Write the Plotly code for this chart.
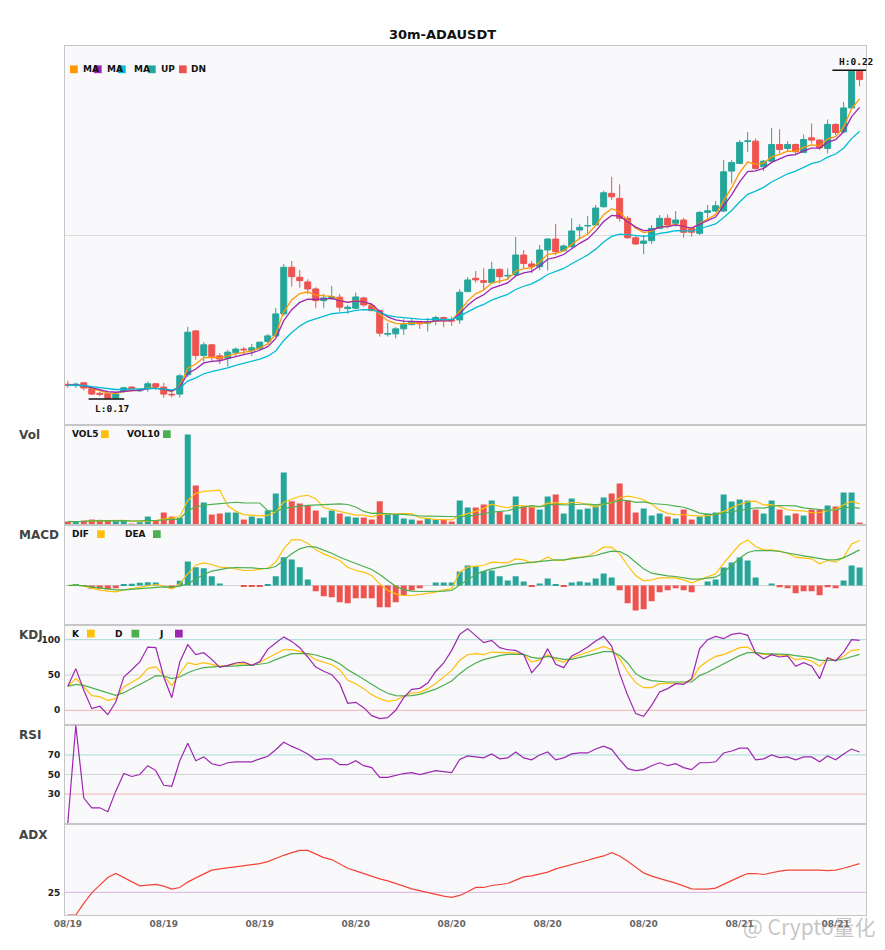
import pandas as pd
import plotly.graph_objects as go
from plotly.subplots import make_subplots

# 30m ADAUSDT, 100 candles
open_ = [0.17200, 0.17182, 0.17223, 0.17131, 0.17062, 0.17054, 0.16988, 0.17089, 0.17157, 0.17100,
         0.17131, 0.17208, 0.17157, 0.17046, 0.17049, 0.17346, 0.18023, 0.17643, 0.17808, 0.17638,
         0.17603, 0.17685, 0.17742, 0.17720, 0.17746, 0.17858, 0.17946, 0.18285, 0.19003, 0.18849,
         0.18777, 0.18669, 0.18489, 0.18520, 0.18542, 0.18366, 0.18372, 0.18531, 0.18412, 0.18335,
         0.17972, 0.17977, 0.18054, 0.18120, 0.18157, 0.18142, 0.18182, 0.18228, 0.18192, 0.18192,
         0.18628, 0.18834, 0.18797, 0.18766, 0.18972, 0.18869, 0.18885, 0.19192, 0.19054, 0.19012,
         0.19269, 0.19438, 0.19258, 0.19320, 0.19577, 0.19640, 0.19654, 0.19935, 0.20142, 0.20065,
         0.19757, 0.19458, 0.19372, 0.19412, 0.19603, 0.19757, 0.19680, 0.19731, 0.19603, 0.19526,
         0.19849, 0.19869, 0.19869, 0.20485, 0.20603, 0.20942, 0.20946, 0.20551, 0.20638, 0.20895,
         0.20834, 0.20895, 0.20772, 0.20997, 0.20962, 0.20834, 0.21203, 0.21089, 0.21458, 0.22023]
high = [0.17254, 0.17228, 0.17238, 0.17146, 0.17085, 0.17069, 0.17069, 0.17162, 0.17169, 0.17142,
        0.17243, 0.17218, 0.17223, 0.17115, 0.17362, 0.18085, 0.18038, 0.17849, 0.17823, 0.17680,
        0.17731, 0.17766, 0.17777, 0.17823, 0.17858, 0.17977, 0.18377, 0.19054, 0.19100, 0.18962,
        0.18818, 0.18695, 0.18592, 0.18715, 0.18592, 0.18423, 0.18612, 0.18551, 0.18423, 0.18351,
        0.18146, 0.18080, 0.18203, 0.18208, 0.18169, 0.18223, 0.18254, 0.18243, 0.18243, 0.18665,
        0.18849, 0.18946, 0.18988, 0.19089, 0.18985, 0.18988, 0.19469, 0.19269, 0.19100, 0.19346,
        0.19454, 0.19669, 0.19357, 0.19757, 0.19665, 0.19792, 0.19962, 0.20182, 0.20397, 0.20280,
        0.19792, 0.19500, 0.19500, 0.19654, 0.19808, 0.19818, 0.19869, 0.19762, 0.19623, 0.19869,
        0.19962, 0.20023, 0.20654, 0.20654, 0.20962, 0.21089, 0.20988, 0.20654, 0.21151, 0.21131,
        0.20946, 0.20908, 0.21049, 0.21218, 0.20977, 0.21280, 0.21223, 0.21551, 0.22038, 0.22031]
low = [0.17146, 0.17146, 0.17105, 0.17038, 0.17015, 0.16975, 0.16985, 0.17069, 0.17123, 0.17080,
       0.17085, 0.17115, 0.16992, 0.16997, 0.16997, 0.17315, 0.17577, 0.17551, 0.17562, 0.17511,
       0.17474, 0.17628, 0.17654, 0.17638, 0.17731, 0.17838, 0.17931, 0.18254, 0.18705, 0.18689,
       0.18592, 0.18372, 0.18372, 0.18500, 0.18320, 0.18285, 0.18362, 0.18397, 0.18331, 0.17935,
       0.17935, 0.17908, 0.17962, 0.18108, 0.18054, 0.18012, 0.18115, 0.18080, 0.18100, 0.18131,
       0.18623, 0.18766, 0.18654, 0.18762, 0.18757, 0.18808, 0.18869, 0.18988, 0.18911, 0.18962,
       0.18954, 0.19192, 0.19254, 0.19300, 0.19449, 0.19515, 0.19638, 0.19923, 0.20038, 0.19705,
       0.19438, 0.19346, 0.19203, 0.19362, 0.19592, 0.19603, 0.19628, 0.19458, 0.19474, 0.19500,
       0.19757, 0.19854, 0.19854, 0.20295, 0.20592, 0.20782, 0.20500, 0.20485, 0.20623, 0.20757,
       0.20782, 0.20731, 0.20762, 0.20911, 0.20808, 0.20757, 0.21038, 0.21069, 0.21438, 0.21792]
close = [0.17185, 0.17203, 0.17142, 0.17049, 0.17046, 0.16988, 0.17049, 0.17146, 0.17131, 0.17120,
         0.17208, 0.17162, 0.17049, 0.17038, 0.17331, 0.18003, 0.17643, 0.17808, 0.17628, 0.17588,
         0.17695, 0.17742, 0.17731, 0.17762, 0.17849, 0.17946, 0.18285, 0.19003, 0.18858, 0.18797,
         0.18669, 0.18489, 0.18531, 0.18551, 0.18388, 0.18388, 0.18546, 0.18423, 0.18335, 0.17988,
         0.17982, 0.18054, 0.18120, 0.18166, 0.18131, 0.18157, 0.18228, 0.18192, 0.18177, 0.18618,
         0.18808, 0.18808, 0.18772, 0.18972, 0.18858, 0.18877, 0.19192, 0.19062, 0.19012, 0.19269,
         0.19438, 0.19243, 0.19331, 0.19562, 0.19618, 0.19646, 0.19915, 0.20151, 0.20089, 0.19757,
         0.19458, 0.19362, 0.19408, 0.19603, 0.19757, 0.19654, 0.19731, 0.19542, 0.19542, 0.19849,
         0.19874, 0.19951, 0.20474, 0.20618, 0.20926, 0.20949, 0.20526, 0.20638, 0.20895, 0.20818,
         0.20895, 0.20782, 0.20972, 0.20962, 0.20843, 0.21203, 0.21080, 0.21458, 0.22023, 0.21895]
# volume in millions
volume = [1.0, 0.9, 1.3, 1.6, 1.5, 1.3, 1.1, 1.3, 0.4, 0.8,
          2.5, 1.3, 3.7, 2.5, 2.1, 27.1, 11.8, 6.7, 3.1, 3.4,
          3.7, 3.7, 1.6, 2.5, 2.0, 4.3, 9.4, 15.7, 7.1, 6.4,
          5.7, 4.3, 2.2, 4.3, 3.4, 2.5, 2.2, 2.2, 1.6, 7.1,
          3.1, 3.1, 1.9, 1.6, 1.3, 1.9, 1.6, 1.6, 1.0, 7.3,
          5.2, 5.2, 6.1, 7.3, 4.0, 3.1, 8.5, 5.5, 5.5, 4.6,
          8.5, 9.1, 3.4, 7.9, 4.6, 4.9, 5.8, 8.2, 9.4, 12.4,
          7.3, 3.7, 4.9, 2.8, 3.4, 2.5, 1.9, 4.6, 1.6, 2.5,
          3.4, 3.7, 9.1, 7.0, 7.6, 7.3, 4.6, 3.4, 7.3, 4.6,
          2.8, 3.4, 2.8, 4.6, 4.6, 5.8, 5.5, 9.7, 9.7, 0.7]

# MACD values in units of 1e-5
dif_e5 = [0, 3, -6, -24, -42, -51, -57, -39, -27, -12,
          3, 9, -6, -30, 15, 105, 183, 204, 189, 165,
          162, 147, 135, 135, 144, 156, 210, 330, 411, 414,
          381, 321, 285, 255, 225, 165, 135, 120, 90, 15,
          -45, -75, -90, -90, -81, -75, -60, -39, -30, 120,
          165, 174, 180, 210, 204, 204, 240, 231, 204, 219,
          255, 225, 225, 249, 255, 264, 300, 345, 345, 285,
          180, 90, 42, 51, 69, 69, 69, 51, 24, 51,
          81, 105, 201, 285, 369, 411, 351, 321, 321, 309,
          291, 255, 249, 240, 195, 225, 210, 255, 375, 405]
dea_e5 = [0, 3, -3, -12, -21, -30, -39, -39, -33, -27,
          -21, -15, -12, -15, -6, 15, 57, 99, 129, 144,
          156, 162, 162, 159, 153, 153, 171, 225, 285, 330,
          351, 345, 321, 291, 255, 225, 195, 171, 144, 99,
          45, -6, -39, -51, -54, -54, -51, -51, -45, 0,
          51, 99, 129, 150, 165, 174, 195, 201, 210, 213,
          225, 231, 231, 240, 246, 255, 270, 291, 309, 306,
          270, 210, 150, 111, 96, 87, 81, 69, 57, 57,
          69, 75, 120, 186, 246, 297, 315, 315, 315, 306,
          291, 279, 267, 255, 240, 231, 231, 249, 285, 321]
hist_e5 = [0, 9, -3, -30, -30, -36, -24, 6, 15, 24,
           30, 27, 0, -24, 42, 216, 165, 156, 84, 18,
           0, 0, -9, -12, -6, 9, 84, 255, 234, 165,
           54, -51, -96, -105, -150, -159, -114, -114, -114, -195,
           -195, -150, -90, -45, -24, 0, 27, 27, 27, 126,
           180, 171, 129, 135, 84, 45, 84, 36, -6, 18,
           63, 9, -6, 27, 36, 27, 63, 108, 72, -42,
           -159, -225, -213, -141, -60, -42, -24, -42, -60, 0,
           36, 54, 162, 207, 252, 225, 72, 0, 18, -15,
           -24, -69, -51, -51, -87, -15, -24, 45, 180, 162]

k_vals = [34, 44.8, 33, 20.8, 19.3, 14.2, 16.5, 33, 39.6, 46.2,
          59, 61.8, 49, 34.9, 51.9, 67.5, 64.6, 67.5, 65.1, 62.3,
          63.7, 65.6, 66, 63.7, 68, 74.5, 80.2, 85.8, 85.8, 83.5,
          79.2, 71.7, 68, 64.6, 57.5, 42.5, 37.7, 30.7, 22.2, 16.5,
          12.7, 14.2, 19.8, 24.5, 25.5, 30.7, 38, 47.2, 56.6, 70.8,
          78.8, 80.2, 78.8, 82.5, 82.1, 81.1, 81.1, 78.8, 68.4, 71.7,
          78.8, 71.7, 68, 74.5, 78.8, 82.5, 87.3, 90.6, 85.8, 73.1,
          54.2, 39.2, 32.1, 32.1, 37.7, 37.7, 38.7, 38.7, 43.4, 61.3,
          69.8, 76.4, 78.8, 84, 88.7, 89.6, 81.1, 79.2, 78.8, 77.8,
          77.8, 71.7, 73.1, 69.8, 62.3, 74.1, 70.8, 76.4, 84.9, 85.8]
d_vals = [34, 36.8, 35.4, 32, 28.3, 24.5, 21.2, 25, 30.7, 36.3,
          42.5, 49, 48.6, 44.8, 47.2, 53.3, 57.5, 60.4, 61.8, 62.3,
          62.3, 63.2, 63.7, 63.7, 65.1, 67, 71.7, 76.4, 80.2, 80.2,
          80.2, 78.3, 75.5, 71.7, 66, 57.5, 50.9, 43.9, 36.8, 29.7,
          24.1, 20.8, 20.3, 20.8, 22.6, 25.9, 30, 35.4, 41.5, 51.9,
          60.4, 67, 71.7, 74.5, 77.4, 79.2, 79.2, 79.2, 75, 73.6,
          76.4, 74.5, 72.2, 72.2, 74.5, 77.4, 80.2, 83, 83, 77.8,
          67, 51.9, 45.3, 42, 40.6, 40.1, 40.1, 40.1, 40.1, 49.1,
          53.8, 59.9, 66, 71.7, 77.4, 81.6, 81.6, 80.2, 80.2, 79.2,
          79.2, 77.4, 76.4, 74.5, 70.8, 70.8, 70.8, 72.6, 76.4, 79.2]
j_vals = [34, 59, 28.3, 2.4, 5.7, -6.1, 11.8, 47.2, 57.5, 68.4,
          89.6, 88.7, 47.2, 17.9, 68.4, 92.9, 78.8, 81.6, 72.2, 60.8,
          63.7, 67, 68.4, 63.7, 68.9, 86.3, 95.3, 104, 97.6, 88.7,
          75.5, 61.3, 55.2, 50.5, 37.7, 9.9, 11.3, 3.8, -7.5, -11.8,
          -10.4, 0, 17.9, 29.7, 31.1, 38.7, 55, 67, 84.9, 107.5,
          115.6, 106.1, 95.8, 99.1, 88.7, 85.8, 84.9, 78.8, 53.3, 66,
          87.3, 65.1, 60.4, 77, 82.5, 89.6, 98.1, 104.7, 91, 51.9,
          21.2, -4.7, -8.5, 7.1, 25.9, 30.7, 37.7, 36.8, 44.8, 87.3,
          100, 104.7, 101.4, 107.5, 109.4, 106.1, 81.1, 73.1, 78.8, 75.5,
          76.9, 62.3, 67.5, 62.7, 44.8, 74.5, 69.8, 82.5, 100, 99.1]
rsi_vals = [0, 100, 26, 16, 16, 12, 33, 51, 48, 50,
            59, 54, 39, 38, 64, 82, 64, 68, 61, 59,
            62, 63, 63, 63, 66, 68.7, 75.3, 83, 78.7, 75.3,
            71, 65, 66, 66, 60, 60, 64, 59, 57, 47,
            47, 49, 51, 52, 50, 52, 54, 53, 52, 65.3,
            69, 68, 67, 71, 66, 67, 73, 67, 65, 70,
            73, 65, 67, 71, 72, 72, 76, 79, 75.7, 65.3,
            56, 54, 55, 59, 62, 59, 61, 57, 55, 62,
            62, 63, 72, 74, 77, 77, 65, 66, 70, 67.3,
            68, 65, 68, 68, 63, 69, 65, 71, 76, 73]
adx_vals = [0, 0, 12.8, 24.5, 33.0, 41.4, 45.8, 41.0, 36.3, 32.2,
            33.0, 33.7, 31.9, 28.6, 30.4, 36.3, 41.0, 45.4, 49.5, 50.9,
            52.0, 53.1, 53.8, 54.9, 56.8, 59.0, 62.6, 65.9, 68.9, 71.4,
            71.4, 67.8, 63.4, 61.2, 56.8, 51.6, 48.7, 45.8, 42.5, 39.9,
            37.7, 35.2, 31.9, 28.9, 26.7, 24.5, 22.9, 20.9, 19.4, 21.6,
            25.6, 30.4, 30.4, 32.6, 33.7, 34.8, 38.5, 42.1, 43.2, 45.1,
            47.3, 50.9, 53.1, 55.3, 57.5, 60.4, 63.0, 65.2, 68.9, 65.2,
            59.3, 52.4, 46.5, 42.9, 39.9, 37.7, 35.2, 32.2, 28.9, 28.6,
            28.6, 29.7, 34.1, 37.7, 42.1, 45.8, 45.8, 44.7, 46.9, 48.4,
            49.5, 49.5, 49.5, 50.2, 49.5, 49.1, 49.5, 51.6, 53.8, 56.8]

tick_idx = [0, 12, 24, 36, 48, 60, 72, 84, 96]
tick_lbl = ['08/19', '08/19', '08/19', '08/20', '08/20', '08/20', '08/20', '08/21', '08/21']

UP = '#26a69a'
DN = '#ef5350'
ORANGE = '#ff9800'
PURPLE = '#9c27b0'
CYAN = '#00bcd4'
AMBER = '#ffc107'
GREEN = '#4caf50'
ADXRED = '#f44336'
FONT = 'DejaVu Sans'

x = list(range(len(close)))
c = pd.Series(close)
ma_fast = c.ewm(span=5, adjust=False).mean()
ma_mid = c.ewm(span=7, adjust=False).mean()
ma_slow = c.ewm(span=15, adjust=False).mean()
v = pd.Series(volume)
vol5 = v.rolling(5, min_periods=1).mean()
vol10 = v.rolling(10, min_periods=1).mean()

bar_col = [UP if cl >= op else DN for op, cl in zip(open_, close)]
hist_col = [UP if h >= 0 else DN for h in hist_e5]

fig = make_subplots(rows=6, cols=1, shared_xaxes=True, vertical_spacing=0,
                    row_heights=[379.3, 100.3, 100.4, 99.6, 100, 90.7])

fig.add_trace(go.Candlestick(x=x, open=open_, high=high, low=low, close=close,
                             increasing=dict(line=dict(color=UP, width=1), fillcolor=UP),
                             decreasing=dict(line=dict(color=DN, width=1), fillcolor=DN)),
              row=1, col=1)
for s, col in [(ma_fast, ORANGE), (ma_mid, PURPLE), (ma_slow, CYAN)]:
    fig.add_trace(go.Scatter(x=x, y=s, mode='lines', line=dict(color=col, width=1.3)), row=1, col=1)

fig.add_trace(go.Bar(x=x, y=volume, marker=dict(color=bar_col, line=dict(width=0))), row=2, col=1)
fig.add_trace(go.Scatter(x=x, y=vol5, mode='lines', line=dict(color=AMBER, width=1.2)), row=2, col=1)
fig.add_trace(go.Scatter(x=x, y=vol10, mode='lines', line=dict(color=GREEN, width=1.2)), row=2, col=1)

fig.add_trace(go.Bar(x=x, y=hist_e5, marker=dict(color=hist_col, line=dict(width=0))), row=3, col=1)
fig.add_trace(go.Scatter(x=x, y=dif_e5, mode='lines', line=dict(color=AMBER, width=1.2)), row=3, col=1)
fig.add_trace(go.Scatter(x=x, y=dea_e5, mode='lines', line=dict(color=GREEN, width=1.2)), row=3, col=1)

for s, col in [(k_vals, AMBER), (d_vals, GREEN), (j_vals, PURPLE)]:
    fig.add_trace(go.Scatter(x=x, y=s, mode='lines', line=dict(color=col, width=1.2)), row=4, col=1)
fig.add_trace(go.Scatter(x=x, y=rsi_vals, mode='lines', line=dict(color=PURPLE, width=1.2)), row=5, col=1)
fig.add_trace(go.Scatter(x=x, y=adx_vals, mode='lines', line=dict(color=ADXRED, width=1.2)), row=6, col=1)

# reference lines
for y, col, r in [(100, '#a6dcd7', 4), (50, '#d3d3d3', 4), (0, '#f6b0b0', 4),
                  (70, '#a6dcd7', 5), (50, '#d3d3d3', 5), (30, '#f6b0b0', 5),
                  (25, '#deb0e6', 6), (0, '#d3d3d3', 3)]:
    fig.add_hline(y=y, line=dict(color=col, width=1), layer='below', row=r, col=1)

# axes
lo, hi = min(low), max(high)
span = hi - lo
fig.update_xaxes(range=[-0.35, 99.8], showgrid=False, zeroline=False, showline=True, mirror=True,
                 linecolor='#c6c6c6', linewidth=1, tickvals=tick_idx, ticktext=tick_lbl,
                 tickfont=dict(family=FONT, size=9, color='#666', weight='bold'), ticks='')
fig.update_xaxes(rangeslider_visible=False)
fig.update_yaxes(showline=True, mirror=True, linecolor='#c6c6c6', linewidth=1, zeroline=False,
                 showgrid=False, ticks='', ticklabelstandoff=2,
                 tickfont=dict(family=FONT, size=9, color='#222', weight='bold'))
fig.update_yaxes(row=1, col=1, range=[lo - 0.0786 * span, hi + 0.0739 * span],
                 tickvals=[lo + 0.5 * span + 0.5 * (0.0739 - 0.0786) * span], showgrid=True,
                 gridcolor='#dcdcdc', showticklabels=False)
fig.update_yaxes(row=2, col=1, range=[0, max(volume) / 0.903], showticklabels=False)
fig.update_yaxes(row=3, col=1, range=[-357, 546], showticklabels=False)
fig.update_yaxes(row=4, col=1, range=[-20.2, 120.6], tickvals=[0, 50, 100])
fig.update_yaxes(row=5, col=1, range=[-1, 101], tickvals=[30, 50, 70])
fig.update_yaxes(row=6, col=1, range=[0, 100], tickvals=[25])

TOP, BOT, LEFT, RIGHT = 45.7, 915.0, 65.0, 866.0


def px(v):
    return (v - LEFT) / (RIGHT - LEFT)


def py(v):
    return (BOT - v) / (BOT - TOP)


# panel names
for name, y in [('Vol', 435), ('MACD', 535), ('KDJ', 635), ('RSI', 735), ('ADX', 835)]:
    fig.add_annotation(text=name, xref='paper', yref='paper', x=px(17), y=py(y), xanchor='left',
                       yanchor='middle', showarrow=False,
                       font=dict(family=FONT, size=12, color='#444', weight='bold'))

# in-panel legends: (text, text_x, square_x, color, y)
legend_items = [('MA', 81, 70, ORANGE, 69), ('MA', 105, 94, PURPLE, 69), ('MA', 132, 118, CYAN, 69),
                ('UP', 159, 148, UP, 69), ('DN', 189, 179, DN, 69),
                ('VOL5', 70, 101, AMBER, 434), ('VOL10', 125, 163, GREEN, 434),
                ('DIF', 70, 97, AMBER, 534), ('DEA', 123, 153, GREEN, 534),
                ('K', 70, 87, AMBER, 633.5), ('D', 113, 131.5, GREEN, 633.5), ('J', 157, 175, PURPLE, 633.5)]
for txt, tx, sx, col, y in legend_items:
    fig.add_annotation(text=txt, xref='paper', yref='paper', x=px(tx), y=py(y), xanchor='left',
                       yanchor='middle', showarrow=False,
                       font=dict(family=FONT, size=9, color='#111', weight='bold'))
    fig.add_shape(type='rect', xref='paper', yref='paper', x0=px(sx), x1=px(sx + 7.7),
                  y0=py(y + 3.9), y1=py(y - 3.9), fillcolor=col, line=dict(width=0), layer='above')

# high / low markers
ih = high.index(hi)
il = low.index(lo)
for idx, val, lab, anchor, shift in [(ih, hi, f'H:{hi:.2f}', 'bottom', 1),
                                      (il, lo, f'L:{lo:.2f}', 'top', -2)]:
    fig.add_shape(type='line', xref='x', yref='y', x0=idx - 2.4, x1=idx + 2.05, y0=val, y1=val,
                  line=dict(color='#111', width=1.5))
    fig.add_annotation(text=lab, xref='x', yref='y', x=idx + 0.55, y=val, yanchor=anchor, yshift=shift,
                       showarrow=False,
                       font=dict(family='DejaVu Sans Mono', size=9.5, color='#111', weight='bold'))

fig.add_annotation(text='@ Crypto量化', xref='paper', yref='paper', x=px(878), y=py(926),
                   xanchor='right', yanchor='middle', showarrow=False,
                   font=dict(family='Noto Sans CJK SC', size=21, color='rgba(140,140,140,0.5)'))

fig.update_layout(
    width=885, height=950,
    margin=dict(l=65, r=19, t=46, b=35),
    paper_bgcolor='white', plot_bgcolor='#f9f9fb',
    showlegend=False, bargap=0.25, boxgap=0.25, boxgroupgap=0,
    title=dict(text='30m-ADAUSDT', x=0.5, xref='container', y=1 - 34 / 950, yref='container',
               xanchor='center', yanchor='middle',
               font=dict(family=FONT, size=13, color='#111', weight='bold')),
)

fig.write_html("out.html", config={'displayModeBar': False},
               post_script="document.body.style.margin='0px';")
